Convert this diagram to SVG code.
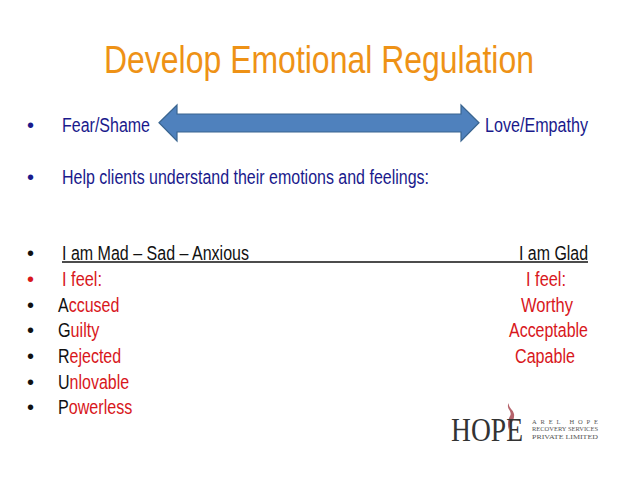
<svg xmlns="http://www.w3.org/2000/svg" width="638" height="478" viewBox="0 0 638 478">
<style>
text{font-family:"Liberation Sans",Arial,sans-serif;font-size:20px}
.b{fill:#1a1a8c}.k{fill:#111}.r{fill:#d8171c}
.s{font-family:"Liberation Serif",serif;fill:#555;font-size:6.500px}
</style>
<rect width="638" height="478" fill="#fff"/>
<g id="title"><text x="319" y="73" text-anchor="middle" style="font-size:38px;fill:#ee9216" textLength="430" lengthAdjust="spacingAndGlyphs">Develop Emotional Regulation</text></g>
<g id="connectors">
<path d="M159 122.700L177 105V114H461V105L479 122.700L461 141V132H177V141Z" fill="#4f81bd" stroke="#3a6590" stroke-width="1.200"/>
<path d="M62 262H588" stroke="#111" stroke-width="1.300" fill="none"/>
</g>
<g id="top-text">
<text x="27" y="132" class="b">•</text><text x="62" y="132" class="b" textLength="88" lengthAdjust="spacingAndGlyphs">Fear/Shame</text>
<text x="588" y="132" class="b" text-anchor="end" textLength="103" lengthAdjust="spacingAndGlyphs">Love/Empathy</text>
<text x="27" y="184" class="b">•</text><text x="62" y="184" class="b" textLength="367" lengthAdjust="spacingAndGlyphs">Help clients understand their emotions and feelings:</text>
</g>
<g id="left-list">
<text x="27" y="260" class="k">•</text><text x="62" y="260" class="k" textLength="187" lengthAdjust="spacingAndGlyphs">I am Mad – Sad – Anxious</text>
<text x="27" y="286" class="r">•</text><text x="62" y="286" class="r" textLength="40" lengthAdjust="spacingAndGlyphs">I feel:</text>
<text x="27" y="312" class="k">•</text><text transform="translate(58 312) scale(.8 1)" class="r"><tspan class="k">A</tspan>ccused</text>
<text x="27" y="337" class="k">•</text><text transform="translate(58 337) scale(.81 1)" class="r"><tspan class="k">G</tspan>uilty</text>
<text x="27" y="363" class="k">•</text><text transform="translate(58 363) scale(.8 1)" class="r"><tspan class="k">R</tspan>ejected</text>
<text x="27" y="389" class="k">•</text><text transform="translate(58 389) scale(.8 1)" class="r"><tspan class="k">U</tspan>nlovable</text>
<text x="27" y="414" class="k">•</text><text transform="translate(58 414) scale(.806 1)" class="r"><tspan class="k">P</tspan>owerless</text>
</g>
<g id="right-list">
<text x="588" y="260" class="k" text-anchor="end" textLength="69" lengthAdjust="spacingAndGlyphs">I am Glad</text>
<text x="526" y="286" class="r" textLength="40" lengthAdjust="spacingAndGlyphs">I feel:</text>
<text x="521" y="312" class="r" textLength="52" lengthAdjust="spacingAndGlyphs">Worthy</text>
<text x="509" y="337" class="r" textLength="79" lengthAdjust="spacingAndGlyphs">Acceptable</text>
<text x="515" y="363" class="r" textLength="60" lengthAdjust="spacingAndGlyphs">Capable</text>
</g>
<g id="logo">
<path d="M509 403C505 408 513 411 510 416C508 420 507 424 509 430C510 424 515 420 514 414C513 409 508 408 509 403Z" fill="#b5636b"/>
<text x="451" y="441" style="font-family:'Liberation Serif',serif;font-size:33px;fill:#333" textLength="72" lengthAdjust="spacingAndGlyphs">HOPE</text>
<text x="532" y="424" class="s" textLength="66" lengthAdjust="spacing">AREL HOPE</text>
<text x="532" y="431" class="s" textLength="66" lengthAdjust="spacingAndGlyphs">RECOVERY SERVICES</text>
<text x="532" y="439" class="s" textLength="66" lengthAdjust="spacingAndGlyphs">PRIVATE LIMITED</text>
</g>
</svg>
